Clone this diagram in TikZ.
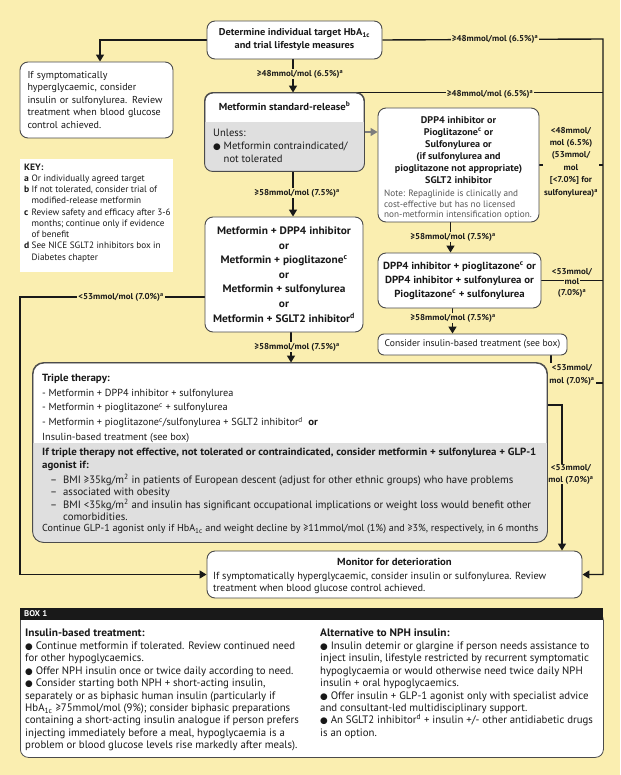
\documentclass[tikz,border=0pt]{standalone}
\usepackage{fontspec}
\setmainfont{PT Sans}[BoldFeatures={FakeStretch=1.05}]
\newfontfamily\symf{DejaVu Sans}
\usetikzlibrary{arrows.meta,backgrounds}
\definecolor{bg}{RGB}{250,238,176}
\definecolor{bord}{RGB}{75,75,75}
\definecolor{lgray}{RGB}{223,223,223}
\definecolor{garr}{RGB}{125,125,125}
\definecolor{notec}{RGB}{85,85,85}
\definecolor{ink}{RGB}{25,25,25}
\newcommand{\blt}{{\symf\fontsize{8.8}{8.8}\selectfont ●}}
\newcommand{\sps}[1]{\textsuperscript{#1}}
\newcommand{\fs}[2]{\fontsize{#1}{#2}\selectfont}
\newcommand{\lf}{\fontsize{8.5}{11.5}\selectfont\bfseries}
\newcommand{\kl}[1]{\makebox[7.5pt][l]{\textbf{#1}}}
\newcommand{\dsh}{\makebox[13pt][l]{–}}
\begin{document}
\begin{tikzpicture}[x=1pt,y=-1pt,
  box/.style={draw=bord, line width=0.9pt, fill=white, rounded corners=8pt, inner sep=0pt},
  conn/.style={line width=1.4pt, draw=ink},
  arr/.style={conn, -{Triangle[width=8pt,length=7pt]}},
  garrow/.style={line width=1.4pt, draw=garr, -{Triangle[width=8pt,length=7pt]}},
  lab/.style={fill=bg, inner sep=1.2pt, font=\lf, align=center, text=ink},
  txt/.style={inner sep=0pt, anchor=north west, align=left, text=ink},
]
\useasboundingbox (0,0) rectangle (620,775);

% top box
\node[box, minimum width=175, minimum height=38, font={\fs{9.85}{13}\bfseries}, align=center, text=ink] (top) at (294.5,40) {Determine individual target HbA\textsubscript{1c}\\and trial lifestyle measures};

% left box
\node[box, minimum width=153, minimum height=76, text width=138, align=left, font={\fs{10.05}{12.5}}, text=ink] (lbox) at (96.5,100) {If symptomatically\\hyperglycaemic, consider\\insulin or sulfonylurea. Review\\treatment when blood glucose\\control achieved.};

% metformin box
\node[box, minimum width=159, minimum height=78] (met) at (284.5,132) {};
\begin{scope}
\clip[rounded corners=8pt] (met.north west) rectangle (met.south east);
\fill[lgray] (205,122) rectangle (364,171);
\end{scope}
\draw[bord, line width=0.9pt, rounded corners=8pt] (met.north west) rectangle (met.south east);
\node[font={\fs{10.15}{13}\bfseries}, text=ink, inner sep=0] (metT) at (284.5,106) {Metformin standard-release\sps{b}};
\node[txt, font={\fs{10.6}{13}}] (metU) at (213,129) {Unless:\\\blt\ Metformin contraindicated/\\\hphantom{\blt\ }not tolerated};

% KEY box
\node[fill=white, minimum width=153, minimum height=113, inner sep=0] (key) at (96.5,215.5) {};
\node[txt, font={\fs{9.2}{11.25}}] (keyT) at (24,163.5) {\textbf{KEY:}\\\kl{a}Or individually agreed target\\\kl{b}If not tolerated, consider trial of\\\kl{}modified-release metformin\\\kl{c}Review safety and efficacy after 3-6\\\kl{}months; continue only if evidence\\\kl{}of benefit\\\kl{d}See NICE SGLT2 inhibitors box in\\\kl{}Diabetes chapter};

% DPP4 box
\node[box, minimum width=161, minimum height=114] (dpp4) at (458.5,165) {};
\node[font={\fs{9.65}{12.1}\bfseries}, align=center, anchor=north, inner sep=0, text=ink] (dppT) at (458.5,116) {DPP4 inhibitor or\\Pioglitazone\sps{c} or\\Sulfonylurea or\\(if sulfonylurea and\\pioglitazone not appropriate)\\SGLT2 inhibitor};
\node[txt, font={\fs{9.2}{10.3}}, text=notec] (dppN) at (384,190) {Note: Repaglinide is clinically and\\cost-effective but has no licensed\\non-metformin intensification option.};

% metformin combinations
\node[box, minimum width=158, minimum height=115, align=center, font={\fs{10.8}{14.6}\bfseries}, text=ink] (comb) at (284,274.5) {Metformin + DPP4 inhibitor\\or\\Metformin + pioglitazone\sps{c}\\or\\Metformin + sulfonylurea\\or\\Metformin + SGLT2 inhibitor\sps{d}};

% dual box
\node[box, minimum width=163, minimum height=55, align=center, font={\fs{10.3}{14}\bfseries}, text=ink] (dual) at (459.5,280.5) {DPP4 inhibitor + pioglitazone\sps{c} or\\DPP4 inhibitor + sulfonylurea or\\Pioglitazone\sps{c} + sulfonylurea};

% insulin box
\node[box, rounded corners=6pt, minimum width=189, minimum height=21, font={\fs{9.6}{12}}, text=ink] (ins) at (472.5,344.5) {Consider insulin-based treatment (see box)};

% triple therapy
\node[box, rounded corners=11pt, minimum width=514, minimum height=179] (tri) at (290,452.5) {};
\begin{scope}
\clip[rounded corners=11pt] (tri.north west) rectangle (tri.south east);
\fill[lgray] (33,443) rectangle (547,542);
\end{scope}
\draw[bord, line width=0.9pt, rounded corners=11pt] (tri.north west) rectangle (tri.south east);
\node[txt, font={\fs{10.25}{14.7}}] (triT) at (42,374) {{\fs{10.4}{14.7}\textbf{Triple therapy:}}\\- Metformin + DPP4 inhibitor + sulfonylurea\\- Metformin + pioglitazone\sps{c} + sulfonylurea\\- Metformin + pioglitazone\sps{c}/sulfonylurea + SGLT2 inhibitor\sps{d}\ \ \textbf{or}\\Insulin-based treatment (see box)};
\node[txt, font={\fs{10.4}{12.5}\bfseries}] (triG) at (42,448) {If triple therapy not effective, not tolerated or contraindicated, consider metformin + sulfonylurea + GLP-1\\agonist if:};
\node[txt, font={\fs{10.7}{12.3}}] (triB) at (50,474) {\dsh BMI ≥35kg/m\sps{2} in patients of European descent (adjust for other ethnic groups) who have problems\\\dsh\hphantom{}associated with obesity\\\dsh BMI <35kg/m\sps{2} and insulin has significant occupational implications or weight loss would benefit other\\\makebox[13pt]{}comorbidities.};
\node[txt, font={\fs{10.12}{12.3}}] (triC) at (42,524) {Continue GLP-1 agonist only if HbA\textsubscript{1c} and weight decline by ≥11mmol/mol (1\%) and ≥3\%, respectively, in 6 months};

% monitor box
\node[box, minimum width=375, minimum height=47] (mon) at (394.5,574.5) {};
\node[font={\fs{10.2}{13}\bfseries}, text=ink, inner sep=0] (monT) at (394.5,562) {Monitor for deterioration};
\node[txt, font={\fs{10.3}{12.4}}] (monX) at (213,572) {If symptomatically hyperglycaemic, consider insulin or sulfonylurea. Review\\treatment when blood glucose control achieved.};

% BOX 1
\node[draw=bord, line width=0.8pt, fill=white, rounded corners=8pt, minimum width=583, minimum height=145, anchor=north west, inner sep=0] (b1) at (20,612) {};
\node[fill=ink, minimum width=583, minimum height=12, anchor=north west, inner sep=0] (b1h) at (20,608) {};
\node[anchor=west, text=white, font={\fs{8.3}{8}\bfseries}, inner sep=0] (b1t) at (24,614) {BOX 1};
\node[txt, font={\fs{10.8}{12.44}}] (b1L) at (25,629) {\textbf{Insulin-based treatment:}\\\blt\ Continue metformin if tolerated. Review continued need\\for other hypoglycaemics.\\\blt\ Offer NPH insulin once or twice daily according to need.\\\blt\ Consider starting both NPH + short-acting insulin,\\separately or as biphasic human insulin (particularly if\\HbA\textsubscript{1c} ≥75mmol/mol (9\%); consider biphasic preparations\\containing a short-acting insulin analogue if person prefers\\injecting immediately before a meal, hypoglycaemia is a\\problem or blood glucose levels rise markedly after meals).};
\node[txt, font={\fs{10.8}{12.44}}] (b1R) at (320,629) {\textbf{Alternative to NPH insulin:}\\\blt\ Insulin detemir or glargine if person needs assistance to\\inject insulin, lifestyle restricted by recurrent symptomatic\\hypoglycaemia or would otherwise need twice daily NPH\\insulin + oral hypoglycaemics.\\\blt\ Offer insulin + GLP-1 agonist only with specialist advice\\and consultant-led multidisciplinary support.\\\blt\ An SGLT2 inhibitor\sps{d} + insulin +/- other antidiabetic drugs\\is an option.};

\begin{pgfonlayer}{background}
\fill[bg] (0,0) rectangle (620,775);
\coordinate (rv) at (603,39);
\coordinate (yA) at (0,297);
\coordinate (cL) at (20,297);
\coordinate (cT) at (562,405);
\coordinate (cI) at (551,383);
\draw[arr] (top.west) -| ([xshift=3.5pt]lbox.north);
\draw[arr] (top.east) -- (rv) |- (mon.east);
\draw[arr] ([xshift=-1.5pt]top.south) -- ([xshift=-1.5pt]top.south |- met.north);
\draw[conn] ([xshift=-8pt]met.north east) -- (met.north east -| rv);
\draw[garrow] (met.east) -- (dpp4.west |- met.east);
\draw[arr] ([xshift=-1.5pt]top.south |- met.south) -- ([xshift=-1.5pt]top.south |- comb.north);
\draw[conn] (dpp4.east) -- (dpp4.east -| rv);
\draw[arr] ([xshift=-8pt]dpp4.south) -- ([xshift=-8pt]dpp4.south |- dual.north);
\draw[conn] (dual.east) -- (dual.east -| rv);
\draw[arr] ([xshift=-7pt]dual.south) -- ([xshift=-7pt]dual.south |- ins.north);
\draw[conn] (ins.south -| cI) -- (cI) -- (cI -| rv);
\draw[arr] (tri.east |- cT) -- (cT) -- (cT |- mon.north);
\draw[arr] ([xshift=-3.5pt]top.south |- comb.south) -- ([xshift=-3.5pt]top.south |- tri.north);
\draw[arr] (comb.west |- yA) -- (cL) |- (mon.west);
% labels
\node[lab] (l1) at (300,74) {≥48mmol/mol (6.5\%)\sps{a}};
\node[lab] (l2) at (495,39) {≥48mmol/mol (6.5\%)\sps{a}};
\node[lab] (l3) at (490,94) {≥48mmol/mol (6.5\%)\sps{a}};
\node[lab] (l4) at (297,193) {≥58mmol/mol (7.5\%)\sps{a}};
\node[lab] (l5) at (297,347) {≥58mmol/mol (7.5\%)\sps{a}};
\node[lab] (l6) at (453,237) {≥58mmol/mol (7.5\%)\sps{a}};
\node[lab] (l7) at (453,318) {≥58mmol/mol (7.5\%)\sps{a}};
\node[lab, font={\fs{8.5}{12.4}\bfseries}] (l8) at (571,162) {<48mmol/\\mol (6.5\%)\\(53mmol/\\mol\\{[}<7.0\%] for\\sulfonylurea)\sps{a}};
\node[lab, fill=none, font={\fs{8.5}{10.5}\bfseries}] (l9) at (572,282.5) {<53mmol/\\{\setlength\fboxsep{1pt}\colorbox{bg}{mol}}\\(7.0\%)\sps{a}};
\node[lab, font={\fs{8.5}{13}\bfseries}] (l10) at (572,375) {<53mmol/\\mol (7.0\%)\sps{a}};
\node[lab, inner sep=0.5pt, font={\fs{8.5}{12}\bfseries}] (l11) at (571,474) {<53mmol/\\mol (7.0\%)\sps{a}};
\node[lab] (l12) at (121,297) {<53mmol/mol (7.0\%)\sps{a}};
\end{pgfonlayer}
\end{tikzpicture}
\end{document}
